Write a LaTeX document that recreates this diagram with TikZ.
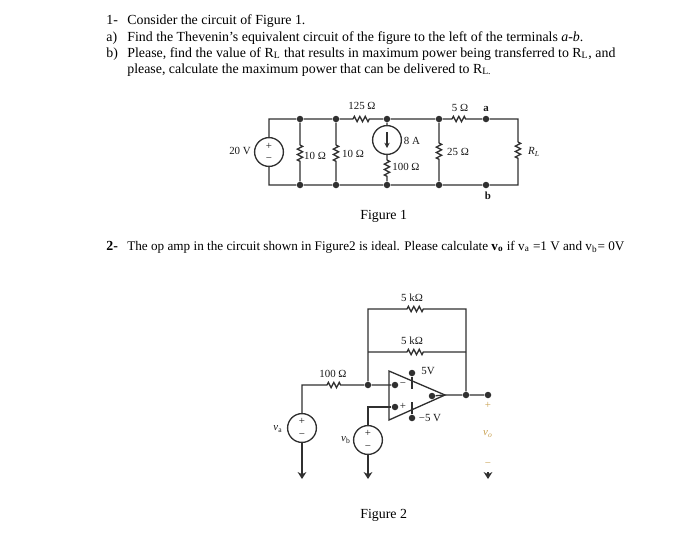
\documentclass[tikz,border=0pt]{standalone}
\usepackage{fontspec}
\setmainfont{Liberation Serif}
\usetikzlibrary{arrows.meta, decorations.pathmorphing}

\begin{document}
\begin{tikzpicture}[x=0.02cm, y=-0.02cm]
  \definecolor{wirecol}{HTML}{303030}
  \definecolor{vocol}{HTML}{C8A050}
  \tikzset{
    wire/.style = {draw = wirecol, line width = 0.75pt, decoration = {zigzag, amplitude = 1.5pt, segment length = 3.1pt}},
    dot/.style = {circle, fill = wirecol, inner sep = 0pt, minimum size = 3.7pt},
    src/.style = {draw = wirecol, circle, line width = 0.75pt, inner sep = 0pt, minimum size = 16.4pt},
    body/.style = {anchor = base west, inner sep = 0pt, font = \fontsize{7.9}{9}\selectfont},
    lab/.style = {inner sep = 0pt, text = black!90, font = \fontsize{6.2}{7}\selectfont},
    gnd/.style = {wire, -{Stealth[length = 4pt, width = 5pt]}}
  }
  \useasboundingbox (0,0) rectangle (700,552);

  % text
  \node[body] (t1n) at (106,24) {1-};
  \node[body] (t1) at (127,24) {Consider the circuit of Figure 1.};
  \node[body] (t2n) at (106,41) {a)};
  \node[body] (t2) at (127,41) {Find the Thevenin’s equivalent circuit of the figure to the left of the terminals \textit{a-b}.};
  \node[body] (t3n) at (106,57) {b)};
  \node[body] (t3) at (127,57) {Please, find the value of R\textsubscript{L} that results in maximum power being transferred to R\textsubscript{L}, and};
  \node[body] (t4) at (127,73) {please, calculate the maximum power that can be delivered to R\textsubscript{L.}};
  \node[body] (fig1) at (360,219) {Figure 1};
  \node[body] (t5n) at (106,250) {\textbf{2-}};
  \node[body, font = \fontsize{7.5}{9}\selectfont] (t5) at (127,250) {The op amp in the circuit shown in Figure2 is ideal. Please calculate \textbf{v\textsubscript{o}} if v\textsubscript{a} =1 V and v\textsubscript{b}= 0V};
  \node[body] (fig2) at (360,518) {Figure 2};

  % figure 1
  \node[src] (vs) at (269,152) {};
  \node[src] (is) at (387,140) {};
  \coordinate (tl) at (269,119);
  \coordinate (bl) at (269,185);
  \coordinate (tr) at (518,119);
  \coordinate (br) at (518,185);
  \node[dot] (n1) at (300,119) {};
  \node[dot] (n2) at (336,119) {};
  \node[dot] (n3) at (387,119) {};
  \node[dot] (n4) at (439,119) {};
  \node[dot] (na) at (486,119) {};
  \node[dot] (m1) at (300,185) {};
  \node[dot] (m2) at (336,185) {};
  \node[dot] (m3) at (387,185) {};
  \node[dot] (m4) at (439,185) {};
  \node[dot] (nb) at (486,185) {};

  \draw[wire] (vs) -- (tl) -- (n1) -- (n2) -- (353,119) decorate {(353,119) -- (370,119)} (370,119) -- (n3) -- (n4) -- (452,119) decorate {(452,119) -- (468,119)} (468,119) -- (na) -- (tr) -- (518,142) decorate {(518,142) -- (518,160)} (518,160) -- (br) -- (nb) -- (m4) -- (m3) -- (m2) -- (m1) -- (bl) -- (vs);
  \draw[wire] (n1) -- (300,145) decorate {(300,145) -- (300,162)} (300,162) -- (m1);
  \draw[wire] (n2) -- (336,145) decorate {(336,145) -- (336,162)} (336,162) -- (m2);
  \draw[wire] (n3) -- (is) (is) -- (387,160) decorate {(387,160) -- (387,177)} (387,177) -- (m3);
  \draw[wire] (n4) -- (439,143) decorate {(439,143) -- (439,160)} (439,160) -- (m4);
  \draw[wire, -{Stealth[length = 3pt, width = 3pt]}] (387,132) -- (387,148);

  \node[lab] (vsp) at (269,146) {+};
  \node[lab] (vsm) at (269,160) {−};
  \node[lab] (l20) at (240,151) {20 V};
  \node[lab] (l10a) at (315,156) {10 Ω};
  \node[lab] (l10b) at (353,154) {10 Ω};
  \node[lab] (l125) at (362,106) {125 Ω};
  \node[lab] (l8) at (412,141) {8 A};
  \node[lab] (l100) at (406,167) {100 Ω};
  \node[lab] (l25) at (458,152) {25 Ω};
  \node[lab] (l5) at (460,108) {5 Ω};
  \node[lab] (la) at (486,109) {\textbf{a}};
  \node[lab] (lb) at (488,196) {\textbf{b}};
  \node[lab] (lrl) at (534,152) {\textit{R\textsubscript{L}}};

  % figure 2
  \node[src] (va) at (302,428) {};
  \node[src] (vb) at (368,440) {};
  \node[dot] (inv) at (368,385) {};
  \node[dot] (opm) at (395,385) {};
  \node[dot] (opp) at (395,407) {};
  \node[dot] (vcc) at (412,373) {};
  \node[dot] (vee) at (412,418) {};
  \node[dot] (opo) at (432,396) {};
  \node[dot] (out) at (466,395) {};
  \node[dot] (vo) at (488,395) {};
  \coordinate (oa1) at (389,371);
  \coordinate (oa2) at (389,420);
  \coordinate (oa3) at (445,395);
  \coordinate (ca) at (302,385);
  \coordinate (cb) at (368,407);
  \coordinate (f1) at (368,309);
  \coordinate (f2) at (466,309);
  \coordinate (f3) at (368,352);
  \coordinate (f4) at (466,352);
  \coordinate (ga) at (302,479);
  \coordinate (gb) at (368,479);
  \coordinate (gc1) at (488,472);
  \coordinate (gc) at (488,479);

  \draw[wire] (oa1) -- (oa2) -- (oa3) -- cycle;
  \draw[wire] (va) -- (ca) -- (327,385) decorate {(327,385) -- (343,385)} (343,385) -- (inv) -- (opm);
  \draw[wire] (vb) -- (cb) -- (opp);
  \draw[wire] (inv) -- (f1) -- (407,309) decorate {(407,309) -- (424,309)} (424,309) -- (f2) -- (out);
  \draw[wire] (f3) -- (407,352) decorate {(407,352) -- (424,352)} (424,352) -- (f4);
  \draw[wire] (vcc) -- (412,389);
  \draw[wire] (vee) -- (412,402);
  \draw[wire] (opo) -- (oa3) -- (out) -- (vo);
  \draw[gnd] (va) -- (ga);
  \draw[gnd] (vb) -- (gb);
  \draw[gnd] (gc1) -- (gc);

  \node[lab] (vap) at (302,421) {+};
  \node[lab] (vam) at (302,436) {−};
  \node[lab] (vbp) at (368,433) {+};
  \node[lab] (vbm) at (368,448) {−};
  \node[lab] (opml) at (403,385) {−};
  \node[lab] (oppl) at (403,406) {+};
  \node[lab] (l5ka) at (412,298) {5 kΩ};
  \node[lab] (l5kb) at (412,341) {5 kΩ};
  \node[lab] (l100b) at (333,374) {100 Ω};
  \node[lab] (l5v) at (428,371) {5V};
  \node[lab] (lm5v) at (430,418) {−5 V};
  \node[lab] (lva) at (278,429) {\textit{v}\textsubscript{a}};
  \node[lab] (lvb) at (346,440) {\textit{v}\textsubscript{b}};
  \node[lab, text = vocol] (lvop) at (488,405) {+};
  \node[lab, text = vocol] (lvo) at (488,434) {\textit{v\textsubscript{o}}};
  \node[lab, text = vocol] (lvom) at (488,465) {−};
\end{tikzpicture}
\end{document}
